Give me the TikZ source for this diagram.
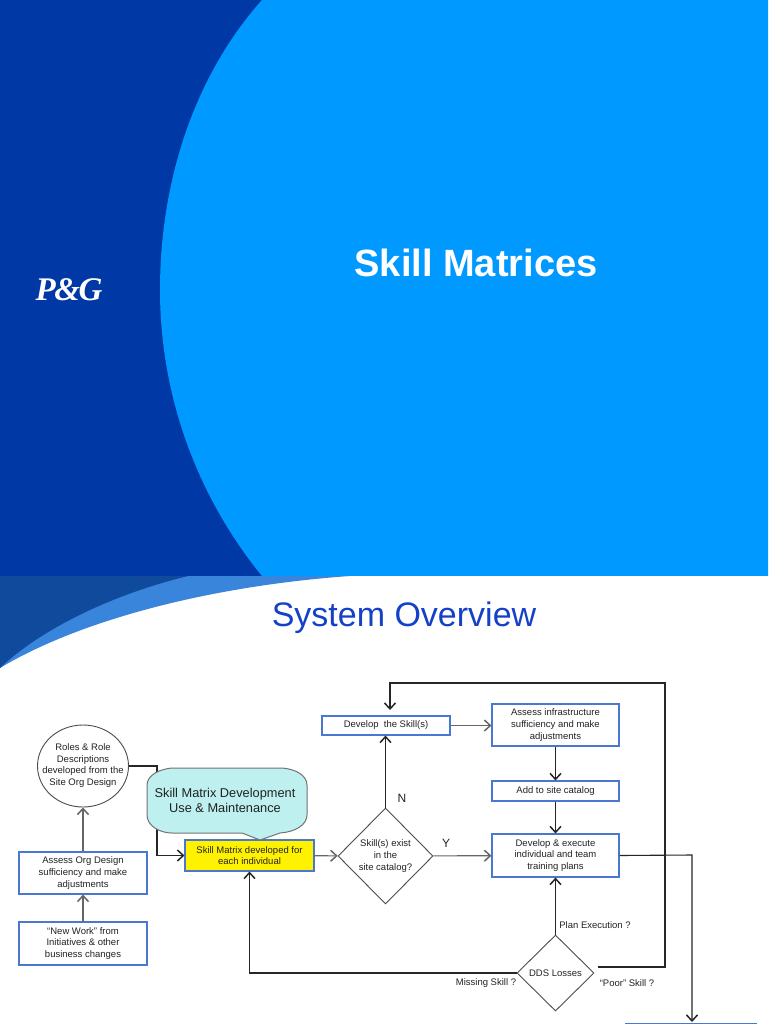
\documentclass[tikz,border=0pt]{standalone}
\usepackage{fontspec}
\setmainfont{Liberation Sans}
\newfontfamily\logofont{Liberation Serif}
\usetikzlibrary{arrows.meta,shapes.geometric}
\definecolor{slidedark}{HTML}{0039A6}
\definecolor{slidelight}{HTML}{0099FF}
\definecolor{banddark}{HTML}{0F4A9C}
\definecolor{bandmid}{HTML}{3A85DC}
\definecolor{titleblue}{HTML}{1540C8}
\definecolor{boxblue}{HTML}{4A78D0}
\definecolor{calloutfill}{HTML}{BDF0EE}
\definecolor{inktext}{HTML}{222222}
\tikzset{
  x=1pt,y=-1pt,
  lbl/.style={font=\fontsize{9.5}{11.6}\selectfont,text=inktext,align=center,inner sep=0pt},
  flowbox/.style={rectangle,draw=boxblue,line width=1.1pt,fill=white,inner sep=0pt,lbl},
  decision/.style={diamond,draw=black!70,line width=0.9pt,fill=white,inner sep=0pt,lbl},
  link/.style={draw=black!85,line width=1.1pt,-{Straight Barb[length=6pt,width=11pt,line width=1.5pt]}},
  greylink/.style={link,draw=black!60},
  note/.style={font=\fontsize{9.5}{11}\selectfont,text=inktext,inner sep=0pt},
  yn/.style={font=\fontsize{12}{14}\selectfont,text=inktext,inner sep=0pt}
}
\begin{document}
\begin{tikzpicture}
\useasboundingbox (0,0) rectangle (768,1024);
% top slide
\fill[slidedark] (0,0) rectangle (768,576);
\fill[slidelight] (262,0) .. controls (195,75) and (160,180) .. (160,290) .. controls (160,400) and (200,500) .. (262,576) -- (768,576) -- (768,0) -- cycle;
\node[text=white,font=\fontsize{38}{42}\selectfont\bfseries,inner sep=0pt] (title1) at (476,263) {Skill Matrices};
\node[text=white,font=\logofont\fontsize{33}{36}\selectfont\bfseries\itshape,inner sep=0pt] (logo) at (69,290) {P\kern-1.5pt\&\kern-1.5pt G};
% bottom slide
\fill[white] (0,576) rectangle (768,1024);
\fill[bandmid] (0,576) -- (350,576) .. controls (210,586) and (80,620) .. (0,668) -- cycle;
\fill[banddark] (0,576) -- (188,576) .. controls (110,595) and (40,630) .. (0,668) -- cycle;
\node[text=titleblue,font=\fontsize{34}{38}\selectfont,inner sep=0pt] (title2) at (404,618) {System Overview};
% nodes
\node[ellipse,draw=black!70,line width=0.9pt,fill=white,inner sep=0pt,minimum width=91pt,minimum height=82pt] (roles) at (83,766) {};
\node[lbl] (roleslabel) at (83,765.5) {Roles \& Role\\Descriptions\\developed from the\\Site Org Design};
\node[flowbox,minimum width=128pt,minimum height=42pt] (orgdesign) at (83,873) {\vphantom{A}Assess Org Design\\sufficiency and make\\adjustments};
\node[flowbox,minimum width=128pt,minimum height=43pt] (newwork) at (83,943.5) {``New Work'' from\\Initiatives \& other\\business changes};
\node[flowbox,minimum width=129pt,minimum height=31pt,fill=yellow] (matrix) at (249.5,855.5) {Skill Matrix developed for\\each individual};
\node[decision,minimum width=95pt,minimum height=96pt] (exist) at (385.5,856) {Skill(s) exist\\in the\\site catalog?};
\node[flowbox,minimum width=128pt,minimum height=19pt] (develop) at (386,725.5) {Develop\ \ the Skill(s)};
\node[flowbox,minimum width=127pt,minimum height=42pt] (infra) at (555.5,725) {Assess infrastructure\\sufficiency and make\\adjustments};
\node[flowbox,minimum width=127pt,minimum height=20pt] (catalog) at (555.5,791) {Add to site catalog};
\node[flowbox,minimum width=127pt,minimum height=43pt] (plans) at (555.5,855.5) {Develop \& execute\\individual and team\\training plans};
\node[decision,minimum width=77pt,minimum height=76pt] (dds) at (555.5,973) {DDS Losses};
\node[flowbox,minimum width=130pt,minimum height=40pt,anchor=north] (nextbox) at (691,1023) {};
\coordinate (loopstart) at (598,967);
\coordinate (loopend) at (390,710);
% connectors
\draw[greylink] (newwork) -- (orgdesign);
\draw[greylink] (orgdesign) -- (roles);
\draw[link] (roles.east) -- (157,766) |- (matrix.west);
\draw[greylink] (matrix) -- (exist);
\draw[link] (exist) -- (develop.south -| exist);
\draw[greylink] (exist) -- (plans);
\draw[greylink] (develop.east) -- (infra.west |- develop.east);
\draw[link] (infra) -- (catalog);
\draw[link] (catalog) -- (plans);
\draw[link] (dds) -- (plans);
\draw[link] (dds.west) -| (matrix.south -| 249.5,0);
\draw[link] (loopstart) -- (665,967) -- (665,683) -- (390,683) -- (loopend);
\draw[link] (plans.east) -- (692,855) -- (692,1022);
% callout
\path[fill=calloutfill,draw=black!55,line width=1pt] (172,768) .. controls (160,769) and (147,775) .. (147,785) -- (147,815) .. controls (147,826) and (160,833) .. (172,833) -- (242,833) -- (260,840) -- (280,833) .. controls (295,832) and (307,825) .. (307,815) -- (307,785) .. controls (307,775) and (295,769) .. (282,768) -- cycle;
\node[font=\fontsize{12.8}{15}\selectfont,text=inktext,align=center,inner sep=0pt] (calloutlabel) at (225,800) {Skill Matrix Development\\Use \& Maintenance};
% labels
\node[yn] (nlabel) at (402,798) {N};
\node[yn] (ylabel) at (446,843) {Y};
\node[note] (planq) at (595,925.5) {Plan Execution ?};
\node[note] (missq) at (486,983) {Missing Skill ?};
\node[note] (poorq) at (627,983) {``Poor'' Skill ?};
\end{tikzpicture}
\end{document}
